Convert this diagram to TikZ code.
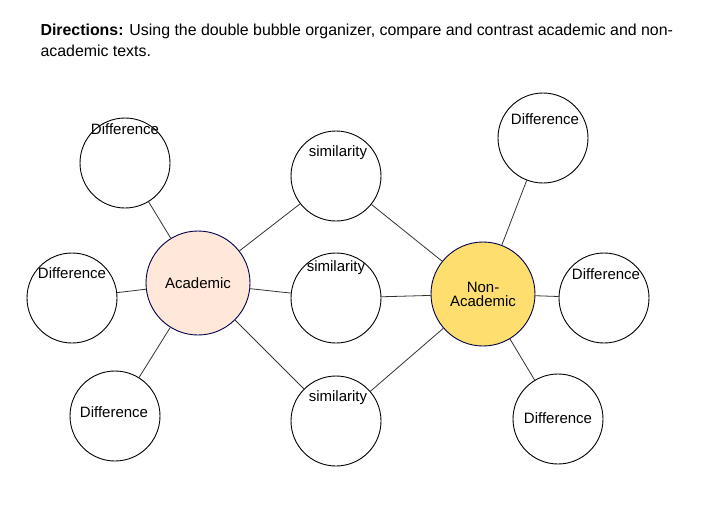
\documentclass[tikz,border=0pt]{standalone}
\usepackage{fontspec}
\setmainfont{Liberation Sans}
\begin{document}
\begin{tikzpicture}[x=1pt,y=-1pt,
  bub/.style={circle,draw=black,line width=0.9pt,minimum size=90pt,inner sep=0pt},
  big/.style={circle,draw=black!70!blue,line width=0.9pt,minimum size=104pt,inner sep=0pt,font=\fontsize{15}{18}\selectfont},
  lab/.style={font=\fontsize{15}{18}\selectfont},
  con/.style={draw=black!80,line width=0.8pt}]
\useasboundingbox (0,0) rectangle (719,524);
\node[anchor=base west,font=\fontsize{15.9}{19}\selectfont] (d1) at (37,36) {\textbf{Directions:} Using the double bubble organizer, compare and contrast academic and non-};
\node[anchor=base west,font=\fontsize{15.9}{19}\selectfont] (d2) at (37,57) {academic texts.};
\node[big,fill=red!20!orange!15] (ac) at (198,283) {Academic};
\node[big,fill=yellow!60!orange!55] (na) at (483,294) {\shortstack{Non-\\Academic}};
\node[bub] (s1) at (336,176) {};
\node[bub] (s2) at (336,298) {};
\node[bub] (s3) at (336,421) {};
\node[bub] (l1) at (125,163) {};
\node[bub] (l2) at (72,298) {};
\node[bub] (l3) at (115,416) {};
\node[bub] (r1) at (543,138) {};
\node[bub] (r2) at (604,298) {};
\node[bub] (r3) at (558,419) {};
\foreach \a/\b in {ac/s1,ac/s2,ac/s3,na/s1,na/s2,na/s3,ac/l1,ac/l2,ac/l3,na/r1,na/r2,na/r3}
  \draw[con] (\a) -- (\b);
\node[lab] (t1) at (125,129) {Difference};
\node[lab] (t2) at (72,273) {Difference};
\node[lab] (t3) at (114,412) {Difference};
\node[lab] (t4) at (545,119) {Difference};
\node[lab] (t5) at (606,274) {Difference};
\node[lab] (t6) at (558,418) {Difference};
\node[lab] (u1) at (338,153) {similarity};
\node[lab] (u2) at (336,268) {similarity};
\node[lab] (u3) at (338,398) {similarity};
\end{tikzpicture}
\end{document}
